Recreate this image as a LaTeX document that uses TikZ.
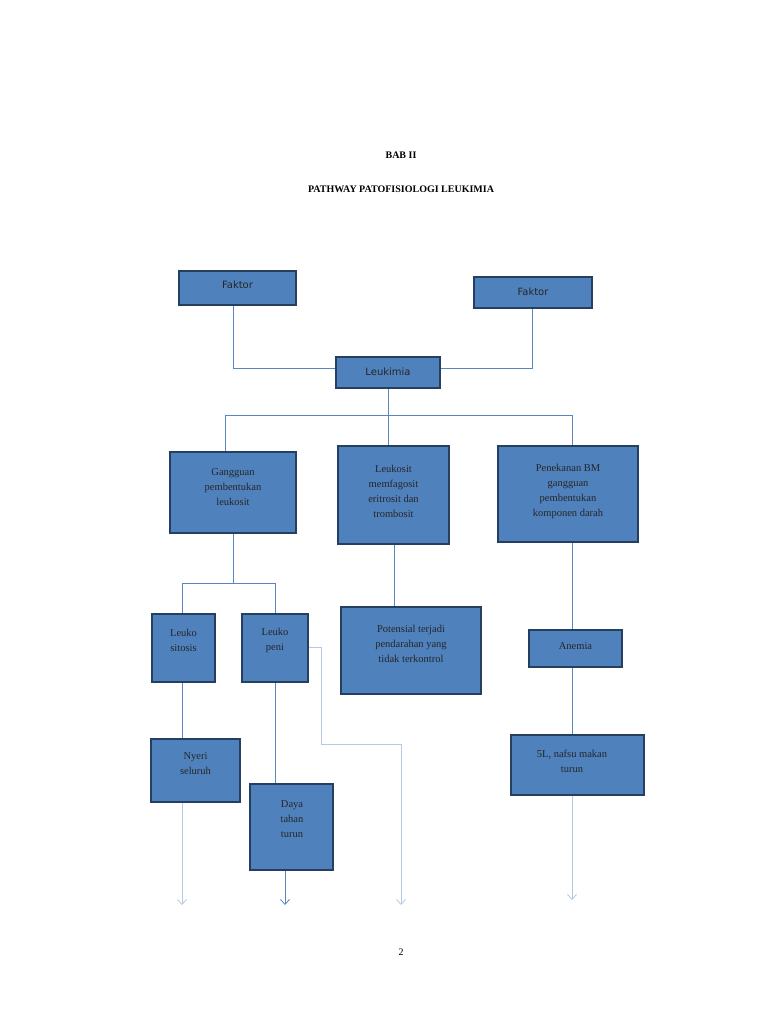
\documentclass[tikz,border=0pt]{standalone}
\usepackage{fontspec}
\setmainfont{Liberation Serif}
\newfontfamily\dvs{DejaVu Sans}
\usetikzlibrary{arrows.meta}
\definecolor{bfill}{HTML}{4F81BD}
\definecolor{bdraw}{HTML}{243F60}
\definecolor{lcol}{HTML}{5A86C0}
\begin{document}
\begin{tikzpicture}[x=1pt,y=-1pt,
  box/.style={draw=bdraw,line width=1.8pt,fill=bfill},
  lbl/.style={align=center,font=\fontsize{10.5}{15}\selectfont,text=black!85},
  sl/.style={align=center,font=\dvs\fontsize{10}{12}\selectfont,text=black!85},
  ln/.style={draw=lcol,line width=0.8pt},
  ar/.style={ln,-{Straight Barb[length=5pt,width=9pt]}}]
\useasboundingbox (0,0) rectangle (768,1024);
\node[font=\bfseries\fontsize{10}{12}\selectfont] (t1) at (401,155) {BAB II};
\node[font=\bfseries\fontsize{10}{12}\selectfont] (t2) at (401,189) {PATHWAY PATOFISIOLOGI LEUKIMIA};
\node[font=\fontsize{10}{12}\selectfont] (pg) at (401,952) {2};
% boxes
\draw[box] (179,271) rectangle (296,305); \node[sl] (fl) at (237.5,285) {Faktor};
\draw[box] (474,277) rectangle (592,308); \node[sl] (fr) at (533,292) {Faktor};
\draw[box] (336,357) rectangle (440,388); \node[sl] (lk) at (388,372) {Leukimia};
\draw[box] (170,452) rectangle (296,533); \node[lbl] (gg) at (233,487) {Gangguan\\pembentukan\\leukosit};
\draw[box] (338,446) rectangle (449,544); \node[lbl] (lm) at (393.5,491) {Leukosit\\memfagosit\\eritrosit dan\\trombosit};
\draw[box] (498,446) rectangle (638,542); \node[lbl] (pb) at (568,491) {Penekanan BM\\gangguan\\pembentukan\\komponen darah};
\draw[box] (152,614) rectangle (215,682); \node[lbl] (ls) at (183.5,640) {Leuko\\sitosis};
\draw[box] (242,614) rectangle (308,682); \node[lbl] (lp) at (275,640) {Leuko\\peni};
\draw[box] (341,607) rectangle (481,694); \node[lbl] (pt) at (411,644) {Potensial terjadi\\pendarahan yang\\tidak terkontrol};
\draw[box] (529,630) rectangle (622,667); \node[lbl] (an) at (575.5,646) {Anemia};
\draw[box] (151,739) rectangle (240,802); \node[lbl] (ny) at (195.5,764) {Nyeri\\seluruh};
\draw[box] (250,784) rectangle (333,870); \node[lbl] (dy) at (292,819) {Daya\\tahan\\turun};
\draw[box] (511,735) rectangle (644,795); \node[lbl] (fl5) at (572,761) {5L, nafsu makan\\turun};
% connectors
\coordinate (e1) at (182,905); \coordinate (e2) at (285,905);
\coordinate (e3) at (401,905); \coordinate (e4) at (572,900);
\draw[ln] (233,306) |- (335,368);
\draw[ln] (532,309) |- (441,368);
\draw[ln] (388,389) -- (388,445);
\draw[ln] (225,451) |- (572,415) -- (572,445);
\draw[ln] (233,534) -- (233,583);
\draw[ln] (182,613) |- (275,583) -- (275,613);
\draw[ln] (394,545) -- (394,606);
\draw[ln] (572,543) -- (572,629);
\draw[ln] (572,668) -- (572,734);
\draw[ln] (182,683) -- (182,738);
\draw[ln] (275,683) -- (275,783);
\draw[ar,draw=lcol!45] (182,803) -- (e1);
\draw[ar] (285,871) -- (e2);
\draw[ar,draw=lcol!45] (309,647) -- (321,647) -- (321,744) -- (401,744) -- (e3);
\draw[ar,draw=lcol!45] (572,796) -- (e4);
\end{tikzpicture}
\end{document}
